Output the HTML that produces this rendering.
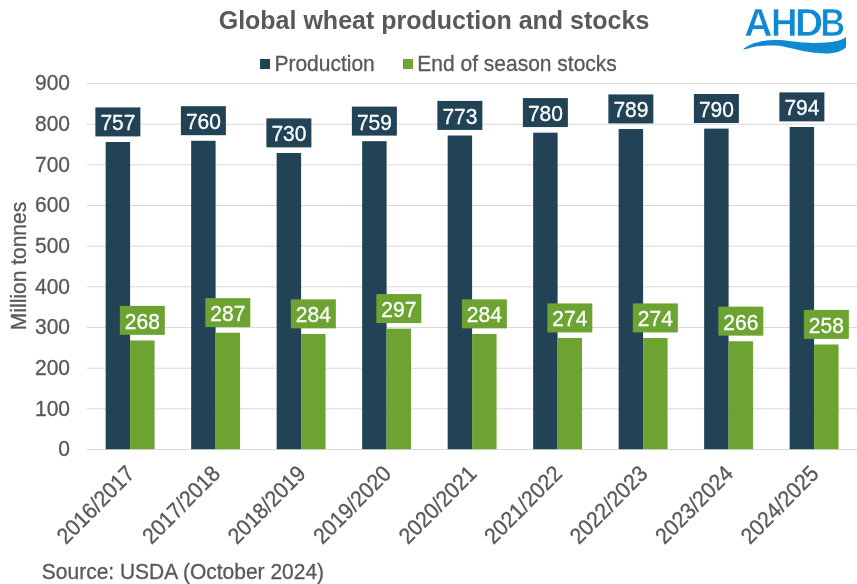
<!DOCTYPE html><html><head><meta charset="utf-8"><style>
html,body{margin:0;padding:0;background:#fff;}body{width:857px;height:584px;overflow:hidden;}
svg{display:block;font-family:"Liberation Sans",sans-serif;will-change:transform;}
</style></head><body>
<svg width="857" height="584" viewBox="0 0 857 584">
<rect width="857" height="584" fill="#fff"/>
<rect x="87" y="83.00" width="770" height="1" fill="#d9d9d9"/>
<rect x="87" y="123.67" width="770" height="1" fill="#d9d9d9"/>
<rect x="87" y="164.33" width="770" height="1" fill="#d9d9d9"/>
<rect x="87" y="205.00" width="770" height="1" fill="#d9d9d9"/>
<rect x="87" y="245.67" width="770" height="1" fill="#d9d9d9"/>
<rect x="87" y="286.33" width="770" height="1" fill="#d9d9d9"/>
<rect x="87" y="327.00" width="770" height="1" fill="#d9d9d9"/>
<rect x="87" y="367.67" width="770" height="1" fill="#d9d9d9"/>
<rect x="87" y="408.33" width="770" height="1" fill="#d9d9d9"/>
<rect x="87" y="449.00" width="770" height="1" fill="#d9d9d9"/>
<text transform="translate(70.00,90.30) scale(1,1.07)" font-size="21" fill="#595959" stroke="#595959" stroke-width="0.3" stroke-linejoin="round" text-anchor="end">900</text>
<text transform="translate(70.00,130.97) scale(1,1.07)" font-size="21" fill="#595959" stroke="#595959" stroke-width="0.3" stroke-linejoin="round" text-anchor="end">800</text>
<text transform="translate(70.00,171.63) scale(1,1.07)" font-size="21" fill="#595959" stroke="#595959" stroke-width="0.3" stroke-linejoin="round" text-anchor="end">700</text>
<text transform="translate(70.00,212.30) scale(1,1.07)" font-size="21" fill="#595959" stroke="#595959" stroke-width="0.3" stroke-linejoin="round" text-anchor="end">600</text>
<text transform="translate(70.00,252.97) scale(1,1.07)" font-size="21" fill="#595959" stroke="#595959" stroke-width="0.3" stroke-linejoin="round" text-anchor="end">500</text>
<text transform="translate(70.00,293.63) scale(1,1.07)" font-size="21" fill="#595959" stroke="#595959" stroke-width="0.3" stroke-linejoin="round" text-anchor="end">400</text>
<text transform="translate(70.00,334.30) scale(1,1.07)" font-size="21" fill="#595959" stroke="#595959" stroke-width="0.3" stroke-linejoin="round" text-anchor="end">300</text>
<text transform="translate(70.00,374.97) scale(1,1.07)" font-size="21" fill="#595959" stroke="#595959" stroke-width="0.3" stroke-linejoin="round" text-anchor="end">200</text>
<text transform="translate(70.00,415.63) scale(1,1.07)" font-size="21" fill="#595959" stroke="#595959" stroke-width="0.3" stroke-linejoin="round" text-anchor="end">100</text>
<text transform="translate(70.00,456.30) scale(1,1.07)" font-size="21" fill="#595959" stroke="#595959" stroke-width="0.3" stroke-linejoin="round" text-anchor="end">0</text>
<rect x="105.65" y="142.01" width="24.45" height="307.19" fill="#214355"/>
<rect x="130.10" y="340.45" width="24.45" height="108.75" fill="#6ca331"/>
<rect x="191.15" y="140.79" width="24.45" height="308.41" fill="#214355"/>
<rect x="215.60" y="332.74" width="24.45" height="116.46" fill="#6ca331"/>
<rect x="276.65" y="152.97" width="24.45" height="296.23" fill="#214355"/>
<rect x="301.10" y="333.95" width="24.45" height="115.25" fill="#6ca331"/>
<rect x="362.15" y="141.20" width="24.45" height="308.00" fill="#214355"/>
<rect x="386.60" y="328.68" width="24.45" height="120.52" fill="#6ca331"/>
<rect x="447.65" y="135.52" width="24.45" height="313.68" fill="#214355"/>
<rect x="472.10" y="333.95" width="24.45" height="115.25" fill="#6ca331"/>
<rect x="533.15" y="132.68" width="24.45" height="316.52" fill="#214355"/>
<rect x="557.60" y="338.01" width="24.45" height="111.19" fill="#6ca331"/>
<rect x="618.65" y="129.02" width="24.45" height="320.18" fill="#214355"/>
<rect x="643.10" y="338.01" width="24.45" height="111.19" fill="#6ca331"/>
<rect x="704.15" y="128.62" width="24.45" height="320.58" fill="#214355"/>
<rect x="728.60" y="341.26" width="24.45" height="107.94" fill="#6ca331"/>
<rect x="789.65" y="126.99" width="24.45" height="322.21" fill="#214355"/>
<rect x="814.10" y="344.50" width="24.45" height="104.70" fill="#6ca331"/>
<rect x="95.38" y="107.41" width="45" height="29" fill="#214355"/>
<text transform="translate(117.88,130.41) scale(1,1.07)" font-size="21" fill="#fff" stroke="#fff" stroke-width="0.3" stroke-linejoin="round" text-anchor="middle">757</text>
<rect x="119.82" y="305.85" width="45" height="29" fill="#6ca331"/>
<text transform="translate(142.32,328.85) scale(1,1.07)" font-size="21" fill="#fff" stroke="#fff" stroke-width="0.3" stroke-linejoin="round" text-anchor="middle">268</text>
<rect x="180.88" y="106.19" width="45" height="29" fill="#214355"/>
<text transform="translate(203.38,129.19) scale(1,1.07)" font-size="21" fill="#fff" stroke="#fff" stroke-width="0.3" stroke-linejoin="round" text-anchor="middle">760</text>
<rect x="205.32" y="298.14" width="45" height="29" fill="#6ca331"/>
<text transform="translate(227.82,321.14) scale(1,1.07)" font-size="21" fill="#fff" stroke="#fff" stroke-width="0.3" stroke-linejoin="round" text-anchor="middle">287</text>
<rect x="266.38" y="118.37" width="45" height="29" fill="#214355"/>
<text transform="translate(288.88,141.37) scale(1,1.07)" font-size="21" fill="#fff" stroke="#fff" stroke-width="0.3" stroke-linejoin="round" text-anchor="middle">730</text>
<rect x="290.83" y="299.35" width="45" height="29" fill="#6ca331"/>
<text transform="translate(313.33,322.35) scale(1,1.07)" font-size="21" fill="#fff" stroke="#fff" stroke-width="0.3" stroke-linejoin="round" text-anchor="middle">284</text>
<rect x="351.88" y="106.60" width="45" height="29" fill="#214355"/>
<text transform="translate(374.38,129.60) scale(1,1.07)" font-size="21" fill="#fff" stroke="#fff" stroke-width="0.3" stroke-linejoin="round" text-anchor="middle">759</text>
<rect x="376.33" y="294.08" width="45" height="29" fill="#6ca331"/>
<text transform="translate(398.83,317.08) scale(1,1.07)" font-size="21" fill="#fff" stroke="#fff" stroke-width="0.3" stroke-linejoin="round" text-anchor="middle">297</text>
<rect x="437.38" y="100.92" width="45" height="29" fill="#214355"/>
<text transform="translate(459.88,123.92) scale(1,1.07)" font-size="21" fill="#fff" stroke="#fff" stroke-width="0.3" stroke-linejoin="round" text-anchor="middle">773</text>
<rect x="461.83" y="299.35" width="45" height="29" fill="#6ca331"/>
<text transform="translate(484.33,322.35) scale(1,1.07)" font-size="21" fill="#fff" stroke="#fff" stroke-width="0.3" stroke-linejoin="round" text-anchor="middle">284</text>
<rect x="522.88" y="98.08" width="45" height="29" fill="#214355"/>
<text transform="translate(545.38,121.08) scale(1,1.07)" font-size="21" fill="#fff" stroke="#fff" stroke-width="0.3" stroke-linejoin="round" text-anchor="middle">780</text>
<rect x="547.33" y="303.41" width="45" height="29" fill="#6ca331"/>
<text transform="translate(569.83,326.41) scale(1,1.07)" font-size="21" fill="#fff" stroke="#fff" stroke-width="0.3" stroke-linejoin="round" text-anchor="middle">274</text>
<rect x="608.38" y="94.42" width="45" height="29" fill="#214355"/>
<text transform="translate(630.88,117.42) scale(1,1.07)" font-size="21" fill="#fff" stroke="#fff" stroke-width="0.3" stroke-linejoin="round" text-anchor="middle">789</text>
<rect x="632.83" y="303.41" width="45" height="29" fill="#6ca331"/>
<text transform="translate(655.33,326.41) scale(1,1.07)" font-size="21" fill="#fff" stroke="#fff" stroke-width="0.3" stroke-linejoin="round" text-anchor="middle">274</text>
<rect x="693.88" y="94.02" width="45" height="29" fill="#214355"/>
<text transform="translate(716.38,117.02) scale(1,1.07)" font-size="21" fill="#fff" stroke="#fff" stroke-width="0.3" stroke-linejoin="round" text-anchor="middle">790</text>
<rect x="718.33" y="306.66" width="45" height="29" fill="#6ca331"/>
<text transform="translate(740.83,329.66) scale(1,1.07)" font-size="21" fill="#fff" stroke="#fff" stroke-width="0.3" stroke-linejoin="round" text-anchor="middle">266</text>
<rect x="779.38" y="92.39" width="45" height="29" fill="#214355"/>
<text transform="translate(801.88,115.39) scale(1,1.07)" font-size="21" fill="#fff" stroke="#fff" stroke-width="0.3" stroke-linejoin="round" text-anchor="middle">794</text>
<rect x="803.83" y="309.90" width="45" height="29" fill="#6ca331"/>
<text transform="translate(826.33,332.90) scale(1,1.07)" font-size="21" fill="#fff" stroke="#fff" stroke-width="0.3" stroke-linejoin="round" text-anchor="middle">258</text>
<text transform="translate(136.10,475.00) rotate(-45) scale(1,1.07)" font-size="21" fill="#595959" stroke="#595959" stroke-width="0.3" stroke-linejoin="round" text-anchor="end">2016/2017</text>
<text transform="translate(221.60,475.00) rotate(-45) scale(1,1.07)" font-size="21" fill="#595959" stroke="#595959" stroke-width="0.3" stroke-linejoin="round" text-anchor="end">2017/2018</text>
<text transform="translate(307.10,475.00) rotate(-45) scale(1,1.07)" font-size="21" fill="#595959" stroke="#595959" stroke-width="0.3" stroke-linejoin="round" text-anchor="end">2018/2019</text>
<text transform="translate(392.60,475.00) rotate(-45) scale(1,1.07)" font-size="21" fill="#595959" stroke="#595959" stroke-width="0.3" stroke-linejoin="round" text-anchor="end">2019/2020</text>
<text transform="translate(478.10,475.00) rotate(-45) scale(1,1.07)" font-size="21" fill="#595959" stroke="#595959" stroke-width="0.3" stroke-linejoin="round" text-anchor="end">2020/2021</text>
<text transform="translate(563.60,475.00) rotate(-45) scale(1,1.07)" font-size="21" fill="#595959" stroke="#595959" stroke-width="0.3" stroke-linejoin="round" text-anchor="end">2021/2022</text>
<text transform="translate(649.10,475.00) rotate(-45) scale(1,1.07)" font-size="21" fill="#595959" stroke="#595959" stroke-width="0.3" stroke-linejoin="round" text-anchor="end">2022/2023</text>
<text transform="translate(734.60,475.00) rotate(-45) scale(1,1.07)" font-size="21" fill="#595959" stroke="#595959" stroke-width="0.3" stroke-linejoin="round" text-anchor="end">2023/2024</text>
<text transform="translate(820.10,475.00) rotate(-45) scale(1,1.07)" font-size="21" fill="#595959" stroke="#595959" stroke-width="0.3" stroke-linejoin="round" text-anchor="end">2024/2025</text>
<text x="218.7" y="28.7" font-size="25" font-weight="bold" fill="#595959">Global wheat production and stocks</text>
<rect x="260" y="59" width="10" height="10" fill="#214355"/>
<text transform="translate(274.40,70.80) scale(1,1.07)" font-size="21" fill="#595959" stroke="#595959" stroke-width="0.3" stroke-linejoin="round" text-anchor="start">Production</text>
<rect x="403" y="59" width="10" height="10" fill="#6ca331"/>
<text transform="translate(417.30,70.80) scale(1,1.07)" font-size="21" fill="#595959" stroke="#595959" stroke-width="0.3" stroke-linejoin="round" text-anchor="start">End of season stocks</text>
<text transform="translate(25.70,266.00) rotate(-90) scale(1,1.07)" font-size="21" fill="#595959" stroke="#595959" stroke-width="0.3" stroke-linejoin="round" text-anchor="middle">Million tonnes</text>
<text transform="translate(41.80,578.80) scale(1,1.07)" font-size="21" fill="#595959" stroke="#595959" stroke-width="0.3" stroke-linejoin="round" text-anchor="start">Source: USDA (October 2024)</text>
<text transform="translate(744.30,36.0) scale(1.0,1)" font-size="39.0" font-weight="bold" fill="#0f8ad2" stroke="#fff" stroke-width="0.6">A</text>
<text transform="translate(770.90,36.0) scale(0.94,1)" font-size="39.0" font-weight="bold" fill="#0f8ad2" stroke="#fff" stroke-width="0.6">H</text>
<text transform="translate(795.00,36.0) scale(1.0,1)" font-size="39.0" font-weight="bold" fill="#0f8ad2" stroke="#fff" stroke-width="0.6">D</text>
<text transform="translate(820.40,36.0) scale(0.875,1)" font-size="39.0" font-weight="bold" fill="#0f8ad2" stroke="#fff" stroke-width="0.6">B</text>
<path d="M742.8,49.6 C745,47.5 747,46.3 749.3,45.2 C752,43.8 755,42.8 758.7,42.0 C762,41.2 765,40.6 768,40.3 C772,40.1 777,39.9 780,40.0 C785,40.3 790,41.0 793.7,41.6 C797,42.1 800,42.4 803,42.5 C807,42.6 812,42.9 815,43.0 C820,42.9 825,42.6 828.7,42.3 C832,41.9 834,41.6 835.7,41.3 C838,40.8 840,40.2 842,39.3 C844,38.5 845,37.8 846.0,37.0 L846.0,47.0 C845.5,47.8 845,48.3 844.5,48.6 C843,49.6 842,50.2 840.3,50.9 C838.5,51.7 837,52.2 835.7,52.6 C833,53.1 831,53.3 828.7,53.4 C825,53.5 822,53.4 819.3,53.3 C817,53.1 816,53.0 815,52.8 C812,52.4 807,51.7 803,50.9 C800,50.3 797,49.6 793.7,48.8 C790,48.0 787,47.3 784.3,46.7 C781,46.0 778,45.6 775,45.5 C772,45.4 770,45.4 768,45.5 C764,45.7 761,45.9 758.7,46.1 C755,46.6 752,47.4 749.3,48.2 C747,48.8 745,49.3 742.8,49.6 Z" fill="#0f8ad2"/>
</svg></body></html>
